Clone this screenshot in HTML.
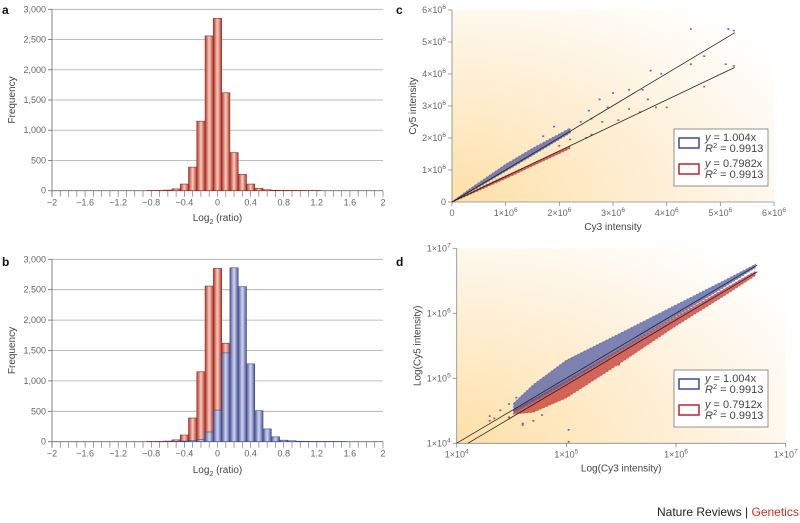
<!DOCTYPE html>
<html><head><meta charset="utf-8">
<style>
html,body{margin:0;padding:0;background:#fff;}
svg{display:block;font-family:"Liberation Sans",Arial,sans-serif;}
.tk{font-size:9px;fill:#666;}
.tt{font-size:10px;fill:#444;}
.lg{font-size:11px;fill:#444;}
.pl{font-size:12px;font-weight:bold;fill:#111;}
</style></head>
<body>
<svg id="fig" width="800" height="523" viewBox="0 0 800 523">
<defs>
<linearGradient id="gRed" x1="0" x2="1" y1="0" y2="0">
<stop offset="0" stop-color="#b8372a"/><stop offset="0.5" stop-color="#f6cfc2"/><stop offset="1" stop-color="#b8372a"/></linearGradient>
<linearGradient id="gBlue" x1="0" x2="1" y1="0" y2="0">
<stop offset="0" stop-color="#4f5a9c"/><stop offset="0.5" stop-color="#d3d6ee"/><stop offset="1" stop-color="#4f5a9c"/></linearGradient>
<radialGradient id="gBg" cx="0" cy="1" r="1.25">
<stop offset="0" stop-color="#fde0a8"/><stop offset="0.55" stop-color="#fef0d8"/><stop offset="1" stop-color="#ffffff"/></radialGradient>
</defs>
<text class="pl" x="2" y="14">a</text>
<text class="pl" x="2" y="266">b</text>
<text class="pl" x="396" y="14">c</text>
<text class="pl" x="396" y="266">d</text>
<g id="pa"></g>
<g id="pb"></g>
<g id="pc"></g>
<g id="pd"></g>
<text x="657" y="516" style="font-size:12px;fill:#222">Nature Reviews | <tspan fill="#d0301e">Genetics</tspan></text>
</svg>
<script>
// ---- histogram data ----
const binCenters = [-1.0,-0.9,-0.8,-0.7,-0.6,-0.5,-0.4,-0.3,-0.2,-0.1,0,0.1,0.2,0.3,0.4,0.5,0.6,0.7,0.8,0.9,1.0,1.1,1.2,1.3];
const redCounts  = [3,5,10,30,110,390,1150,2560,2850,1620,630,270,110,40,15,8,5,5,3,2,2,0,0,0];
const blueCounts = [0,0,3,5,10,20,40,160,520,1460,2860,2550,1280,510,210,80,25,15,8,5,3,3,3,2];
const histYTicks = [0,500,1000,1500,2000,2500,3000];
const histYLabels = ["0","500","1,000","1,500","2,000","2,500","3,000"];
const histXLabels = ["−2","−1.6","−1.2","−0.8","−0.4","0","0.4","0.8","1.2","1.6","2"];
// ---- scatter c data ----
const linTicks = [0,1e6,2e6,3e6,4e6,5e6,6e6];
const linLabels = ["0","1×10|6","2×10|6","3×10|6","4×10|6","5×10|6","6×10|6"];
const slopeBlueC = 1.004, slopeRedC = 0.7982, lineEndC = 5.27e6;
const bandXc = [5e4,3e5,6e5,1e6,1.5e6,2.2e6];
const blueLoC = [0.9,0.92,0.94,0.96,0.97,0.98];
const blueHiC = [1.35,1.25,1.2,1.18,1.12,1.05];
const redLoC  = [0.6,0.7,0.72,0.73,0.75,0.76];
const redHiC  = [0.9,0.88,0.85,0.82,0.8,0.79];
const blueOutX = [4.45e6,5.15e6,4.7e6,3.7e6,3.55e6,3.0e6,2.9e6,2.55e6,2.6e6,2.2e6,1.9e6,3.9e6,3.3e6,2.4e6,5.25e6,2.75e6,1.7e6];
const blueOutY = [5.4e6,5.4e6,4.55e6,4.1e6,3.5e6,3.4e6,2.95e6,2.85e6,2.6e6,2.2e6,2.35e6,4.0e6,3.5e6,2.5e6,5.35e6,3.2e6,2.05e6];
const redOutX = [4.45e6,5.1e6,4.7e6,3.5e6,3.8e6,3.3e6,3.1e6,2.6e6,2.5e6,2.2e6,2.0e6,4.0e6,5.25e6,2.8e6,3.65e6];
const redOutY = [4.3e6,4.3e6,3.6e6,2.8e6,2.95e6,2.9e6,2.55e6,2.1e6,2.0e6,1.95e6,1.75e6,2.95e6,4.25e6,2.5e6,3.2e6];
// ---- scatter d data ----
const logTicks = [1e4,1e5,1e6,1e7];
const logLabels = ["1×10|4","1×10|5","1×10|6","1×10|7"];
const slopeBlueD = 1.004, slopeRedD = 0.7912, lineEndD = 5.5e6;
const bandXd = [3.3e4,5e4,1e5,3e5,1e6,3e6,5.3e6];
const blueLoD = [0.9,0.88,0.86,0.88,0.9,0.92,0.95];
const blueHiD = [1.25,1.6,1.9,1.6,1.35,1.15,1.07];
const redLoD  = [0.85,0.6,0.5,0.55,0.64,0.68,0.72];
const redHiD  = [1.0,0.95,0.92,0.9,0.88,0.86,0.84];
const blueOutXd = [2e4,3e4,1.05e5,4e4,3.5e4,2.5e4,6e4];
const blueOutYd = [2.6e4,4e4,1.6e4,2e4,5e4,3.2e4,2.7e4];
const redOutXd = [1.05e5,2e4,4e4,3e4,2.2e4,5e4,3e5];
const redOutYd = [1.05e4,2.2e4,1.9e4,2.5e4,2.4e4,2.2e4,1.6e5];

const NS="http://www.w3.org/2000/svg";
function mk(parent,tag,attrs){const e=document.createElementNS(NS,tag);for(const k in attrs)e.setAttribute(k,attrs[k]);parent.appendChild(e);return e;}
function supText(parent,x,y,lab,anchor){
  const parts=lab.split("|");
  const t=mk(parent,"text",{x:x,y:y,"text-anchor":anchor,class:"tk"});
  t.appendChild(document.createTextNode(parts[0]));
  if(parts[1]){const s=mk(t,"tspan",{dy:-4,"font-size":"6.5px"});s.textContent=parts[1];}
  return t;
}

function histogram(gid,top,bottom,series,titleY){
  const g=document.getElementById(gid);
  const x0=52,x1=383;
  const xs=v=>x0+(v+2.2)/4*(x1-x0);
  const ys=v=>bottom-v/3000*(bottom-top);
  histYTicks.forEach((t,i)=>{
    const l=mk(g,"line",{x1:x0,x2:x1,y1:ys(t),y2:ys(t),stroke:t==0?"#666":"#aaa","stroke-width":0.8});
    
    
    mk(g,"line",{x1:x0-4,x2:x0,y1:ys(t),y2:ys(t),stroke:"#666","stroke-width":0.8});
    const tx=mk(g,"text",{x:x0-6,y:ys(t)+3,"text-anchor":"end",class:"tk"});tx.textContent=histYLabels[i];
    
    
  });
  mk(g,"line",{x1:x0,x2:x0,y1:top,y2:bottom+6,stroke:"#666","stroke-width":0.8});
  for(let i=0;i<=40;i++){const x=x0+i*(x1-x0)/40;mk(g,"line",{x1:x,x2:x,y1:bottom,y2:bottom+6,stroke:"#777","stroke-width":0.7});}
  histXLabels.forEach((lab,i)=>{
    const t=mk(g,"text",{x:x0+i*(x1-x0)/10,y:bottom+15,"text-anchor":"middle",class:"tk"});t.textContent=lab;
    
    
  });
  const bw=(x1-x0)/40;
  series.forEach(s=>{
    binCenters.forEach((c,i)=>{
      const v=s.vals[i]; if(v<=0)return;
      const r=mk(g,"rect",{x:xs(c)-bw/2,y:ys(v),width:bw,height:bottom-ys(v),fill:s.fill,stroke:s.stroke,"stroke-width":0.6});
      
      
    });
  });
  const yt=mk(g,"text",{x:0,y:0,transform:`translate(15,${(top+bottom)/2}) rotate(-90)`,"text-anchor":"middle",class:"tt"});
  yt.textContent="Frequency";
  
  
  const xt=mk(g,"text",{x:(x0+x1)/2,y:titleY,"text-anchor":"middle",class:"tt"});
  xt.appendChild(document.createTextNode("Log"));
  const sb=mk(xt,"tspan",{dy:3,"font-size":"7px"});sb.textContent="2";
  const rest=mk(xt,"tspan",{dy:-3});rest.textContent=" (ratio)";
  
  
}
histogram("pa",9.3,190.7,[{vals:redCounts,fill:"url(#gRed)",stroke:"#8a2a20",name:"red-bar"}],221);
histogram("pb",259.3,441.7,[{vals:redCounts,fill:"url(#gRed)",stroke:"#8a2a20",name:"red-bar"},{vals:blueCounts,fill:"url(#gBlue)",stroke:"#3d4680",name:"blue-bar"}],473);

function legend(g,x,y,t1,t2){
  mk(g,"rect",{x:x,y:y,width:94,height:57,fill:"#fff",stroke:"#777","stroke-width":0.8});
  const items=[{c:"#3a4a9a",t:t1,dy:0,n:"legend-blue"},{c:"#b3262a",t:t2,dy:26,n:"legend-red"}];
  items.forEach(it=>{
    const r=mk(g,"rect",{x:x+5,y:y+9+it.dy,width:20,height:10,fill:"#fff",stroke:it.c,"stroke-width":1.5});
    
    
    const a=mk(g,"text",{x:x+31,y:y+12+it.dy,class:"lg"});
    const i1=mk(a,"tspan",{"font-style":"italic"});i1.textContent="y";
    a.appendChild(document.createTextNode(" = "+it.t));
    const b=mk(g,"text",{x:x+31,y:y+23+it.dy,class:"lg"});
    const r2=mk(b,"tspan",{"font-style":"italic"});r2.textContent="R";
    const s2=mk(b,"tspan",{dy:-4,"font-size":"7.5px"});s2.textContent="2";
    const e2=mk(b,"tspan",{dy:4});e2.textContent=" = 0.9913";
  });
}

function scatter(gid,X0,X1,Y0,Y1,xs,ys,cfg){
  const g=document.getElementById(gid);
  const bg=mk(g,"rect",{x:X0,y:Y1,width:X1-X0,height:Y0-Y1,fill:"url(#gBg)"});
  
  
  mk(g,"line",{x1:X0,x2:X0,y1:Y1,y2:Y0,stroke:"#888","stroke-width":0.8});
  mk(g,"line",{x1:X0,x2:X1,y1:Y0,y2:Y0,stroke:"#888","stroke-width":0.8});
  cfg.ticks.forEach((t,i)=>{
    mk(g,"line",{x1:X0-4,x2:X0,y1:ys(t),y2:ys(t),stroke:"#888","stroke-width":0.8});
    mk(g,"line",{x1:xs(t),x2:xs(t),y1:Y0,y2:Y0+4,stroke:"#888","stroke-width":0.8});
    const a=supText(g,X0-6,ys(t)+3,cfg.labels[i],"end");
    
    
    const b=supText(g,xs(t),Y0+14,cfg.labels[i],"middle");
    
    
  });
  [{lo:cfg.redLo,hi:cfg.redHi,c:"#c0302c",n:"red-point-cloud"},{lo:cfg.blueLo,hi:cfg.blueHi,c:"#4a58a4",n:"blue-point-cloud"}].forEach((b,k)=>{
    let pts=[];
    cfg.bandX.forEach((x,i)=>pts.push(xs(x)+","+ys(x*b.hi[i])));
    for(let i=cfg.bandX.length-1;i>=0;i--)pts.push(xs(cfg.bandX[i])+","+ys(cfg.bandX[i]*b.lo[i]));
    const p=mk(g,"polygon",{points:pts.join(" "),fill:b.c,"fill-opacity":0.72,stroke:b.c,"stroke-opacity":0.6,"stroke-width":1.2,"stroke-dasharray":"1.5 2"});
    
    
  });
  [{X:cfg.bX,Y:cfg.bY,c:"#5a68b8",n:"blue-point"},{X:cfg.rX,Y:cfg.rY,c:"#d04a3a",n:"red-point"}].forEach(s=>{
    s.X.forEach((x,i)=>{
      const r=mk(g,"rect",{x:xs(x)-1,y:ys(s.Y[i])-1,width:2,height:1.6,fill:s.c});
      
      
    });
  });
  [cfg.slopeB,cfg.slopeR].forEach((sl,k)=>{
    const xa=cfg.lineStart/(k==1?sl:1);
    const xs0=(k==1&&cfg.log)?xa:cfg.lineStart;
    const l=mk(g,"line",{x1:xs(xs0),y1:ys(xs0*sl),x2:xs(cfg.lineEnd),y2:ys(cfg.lineEnd*sl),stroke:"#222","stroke-width":0.8});
    
    
  });
  legend(g,674,cfg.legY,cfg.t1,cfg.t2);
  const yt=mk(g,"text",{transform:`translate(${X0-36},${(Y0+Y1)/2}) rotate(-90)`,"text-anchor":"middle",class:"tt"});
  yt.textContent=cfg.yTitle;
  
  
  const xt=mk(g,"text",{x:(X0+X1)/2,y:Y0+28,"text-anchor":"middle",class:"tt"});
  xt.textContent=cfg.xTitle;
  
  
}
{
  const X0=452,X1=774,Y0=202,Y1=10;
  scatter("pc",X0,X1,Y0,Y1,v=>X0+v/6e6*(X1-X0),v=>Y0-v/6e6*(Y0-Y1),
   {ticks:linTicks,labels:linLabels,bandX:bandXc,blueLo:blueLoC,blueHi:blueHiC,redLo:redLoC,redHi:redHiC,
    bX:blueOutX,bY:blueOutY,rX:redOutX,rY:redOutY,slopeB:slopeBlueC,slopeR:slopeRedC,lineStart:0,lineEnd:lineEndC,
    legY:129,t1:"1.004x",t2:"0.7982x",yTitle:"Cy5 intensity",xTitle:"Cy3 intensity",log:false});
}
{
  const X0=456.7,X1=785.7,Y0=443.3,Y1=248.3;
  scatter("pd",X0,X1,Y0,Y1,v=>X0+(Math.log10(v)-4)/3*(X1-X0),v=>Y0-(Math.log10(v)-4)/3*(Y0-Y1),
   {ticks:logTicks,labels:logLabels,bandX:bandXd,blueLo:blueLoD,blueHi:blueHiD,redLo:redLoD,redHi:redHiD,
    bX:blueOutXd,bY:blueOutYd,rX:redOutXd,rY:redOutYd,slopeB:slopeBlueD,slopeR:slopeRedD,lineStart:1e4,lineEnd:lineEndD,
    legY:370,t1:"1.004x",t2:"0.7912x",yTitle:"Log(Cy5 intensity)",xTitle:"Log(Cy3 intensity)",log:true});
}
</script>
</body></html>
